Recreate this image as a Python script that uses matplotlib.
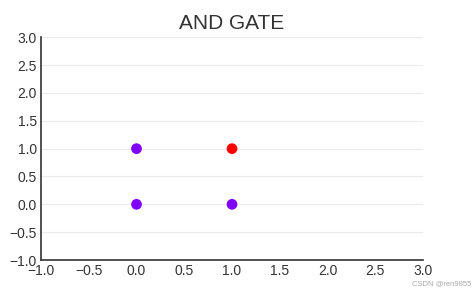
import matplotlib
matplotlib.use("Agg")
import matplotlib.pyplot as plt
import numpy as np

x1 = [0, 0, 1, 1]
x2 = [0, 1, 0, 1]
y = [0, 0, 0, 1]
xticks = [-1.0, -0.5, 0.0, 0.5, 1.0, 1.5, 2.0, 2.5, 3.0]
yticks = [-1.0, -0.5, 0.0, 0.5, 1.0, 1.5, 2.0, 2.5, 3.0]

plt.rcParams['font.family'] = ['Liberation Sans', 'DejaVu Sans']
fig = plt.figure(figsize=(4.74, 2.9), dpi=100)
ax = fig.add_axes([0.0865, 0.1034, 0.806, 0.768])
ax.scatter(x1, x2, c=y, cmap='rainbow', s=45, zorder=3)
ax.set_xlim(-1, 3)
ax.set_ylim(-1, 3)
ax.set_xticks(xticks)
ax.set_yticks(yticks)
ax.set_xticklabels([f"{t:.1f}".replace('-', '\u2212') for t in xticks])
ax.set_yticklabels([f"{t:.1f}".replace('-', '\u2212') for t in yticks])
ax.grid(axis='y', color='#ebebeb', linewidth=0.8)
ax.set_axisbelow(True)
for s in ['top', 'right']:
    ax.spines[s].set_visible(False)
for s in ['left', 'bottom']:
    ax.spines[s].set_color('#333333')
    ax.spines[s].set_linewidth(1.2)
ax.tick_params(length=0, labelsize=10, colors='#333333', pad=3)
ax.set_title('AND GATE', fontsize=15, color='#333333', pad=6)
fig.text(0.995, 0.01, 'CSDN @ren9855', fontsize=5.5, color='#aaaaaa', ha='right', va='bottom')
fig.savefig('out.png', dpi=100)
